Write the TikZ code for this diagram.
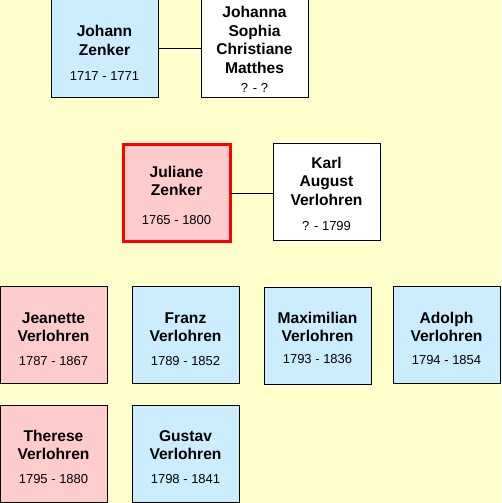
\documentclass[tikz,border=0pt]{standalone}
\usepackage{fontspec}
\setmainfont{Liberation Sans}
\definecolor{bgyellow}{RGB}{255,255,204}
\definecolor{boxblue}{RGB}{204,236,255}
\definecolor{boxpink}{RGB}{255,204,204}
% #1 first baseline from top, #2 line spacing, #3 name lines, #4 extra space before date, #5 dates
\newcommand\famtext[5]{\parbox[c][97pt][t]{107pt}{\centering
  \fontsize{15.6pt}{#2}\selectfont\bfseries\rule{0pt}{#1}#3\par
  \vspace{#4}\fontsize{13pt}{#2}\mdseries\selectfont #5\par}}
\tikzset{
  person/.style={draw=black, line width=1pt, inner sep=0pt, outer sep=0pt},
  male/.style={person, fill=boxblue},
  female/.style={person, fill=boxpink},
  spouse/.style={person, fill=white},
  focus/.style={person, draw=red, line width=3pt, fill=boxpink},
  link/.style={draw=black, line width=1pt}
}
\begin{document}
\begin{tikzpicture}[x=1pt,y=-1pt]
\useasboundingbox (0,0) rectangle (501,503);
\fill[bgyellow] (0,0) rectangle (501,503);
% grandparents
\node[male] (jz) at (104.5,48.5) {\famtext{37pt}{19pt}{Johann\\Zenker}{5pt}{1717 - 1771}};
\node[spouse] (js) at (254.5,48.5) {\famtext{18pt}{18.4pt}{Johanna\\Sophia\\Christiane\\Matthes}{0.5pt}{? - ?}};
% parents
\node[focus] (ju) at (176.5,193) {\famtext{32.5pt}{18.4pt}{Juliane\\Zenker}{11pt}{1765 - 1800}};
\node[spouse] (ka) at (326.5,192) {\famtext{24.5pt}{18.6pt}{Karl\\August\\Verlohren}{6.4pt}{? - 1799}};
% children row 1
\node[female] (je) at (53.5,335) {\famtext{36.5pt}{18.3pt}{Jeanette\\Verlohren}{6pt}{1787 - 1867}};
\node[male] (fr) at (185.5,335) {\famtext{36.5pt}{18.3pt}{Franz\\Verlohren}{6pt}{1789 - 1852}};
\node[male] (mx) at (317.5,335.5) {\famtext{36pt}{18.3pt}{Maximilian\\Verlohren}{4pt}{1793 - 1836}};
\node[male] (ad) at (446.5,335) {\famtext{36.5pt}{18.3pt}{Adolph\\Verlohren}{4.5pt}{1794 - 1854}};
% children row 2
\node[female] (th) at (53.5,453.5) {\famtext{36.5pt}{18.3pt}{Therese\\Verlohren}{5.5pt}{1795 - 1880}};
\node[male] (gu) at (185.5,453.5) {\famtext{36.5pt}{18.3pt}{Gustav\\Verlohren}{5.5pt}{1798 - 1841}};
% marriage lines
\draw[link] (jz.east) -- (js.west);
\draw[link] (ju.east) -- (ju.east -| ka.west);
\end{tikzpicture}
\end{document}
